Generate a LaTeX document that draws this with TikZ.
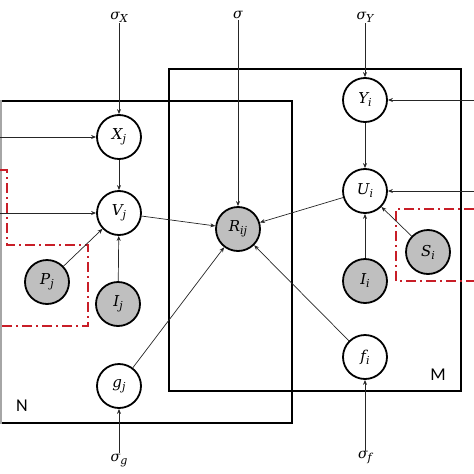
\documentclass[tikz,border=0pt]{standalone}
\usepackage{fontspec}
\newfontfamily\carl{Carlito}
\newfontfamily\vf{DejaVu Serif}
\newcommand\mvar[2]{{\vf\itshape #1}\raisebox{-3pt}{\fontsize{11}{11}\selectfont\vf\itshape #2}}
\usetikzlibrary{arrows.meta}
\definecolor{dred}{RGB}{200,30,40}
\begin{document}
\begin{tikzpicture}[x=1pt,y=-1pt,
 var/.style={circle,draw,line width=1.8pt,minimum size=44pt,inner sep=0pt,font=\fontsize{15}{17}\selectfont},
 obs/.style={var,fill=gray!50},
 edge/.style={-{Stealth[length=5pt,width=4pt]},line width=0.7pt,draw=black!85},
 plate/.style={line width=1.6pt},
 redbox/.style={draw=dred,line width=1.8pt,dash pattern=on 10pt off 4pt on 2pt off 4pt},
 lab/.style={font=\fontsize{14}{16}\selectfont,inner sep=1pt},
 platelab/.style={font=\carl\fontsize{18}{20}\selectfont}]
\useasboundingbox (0,0) rectangle (474,474);
% plates
\draw[plate] (1,101) -- (292,101) -- (292,423) -- (1,423);
\draw[plate,draw=gray!70] (1,100) -- (1,424);
\draw[plate] (169,69) rectangle (461,391);
\node[platelab] (Nlab) at (22,406) {N};
\node[platelab] (Mlab) at (438,375) {M};
% red boxes
\draw[redbox] (0,170) -- (7,170) -- (7,245) -- (88,245) -- (88,326) -- (0,326);
\draw[redbox] (474,209) -- (396,209) -- (396,281) -- (474,281);
% nodes
\node[var] (X) at (119,137) {\mvar{X}{j}};
\node[var] (V) at (119,213) {\mvar{V}{j}};
\node[obs] (P) at (47,282) {\mvar{P}{j}};
\node[obs] (Ij) at (118,304) {\mvar{I}{j}};
\node[var] (g) at (119,386) {\mvar{g}{j}};
\node[obs] (R) at (238,229) {\mvar{R}{ij}};
\node[var] (Y) at (365,100) {\mvar{Y}{i}};
\node[var] (U) at (365,191) {\mvar{U}{i}};
\node[obs] (S) at (428,252) {\mvar{S}{i}};
\node[obs] (Ii) at (365,281) {\mvar{I}{i}};
\node[var] (f) at (365,357) {\mvar{f}{i}};
% hyperparameters
\node[lab] (sX) at (119,17) {\mvar{σ}{X}};
\node[lab] (s) at (238,15) {{\vf\itshape σ}};
\node[lab] (sY) at (365,17) {\mvar{σ}{Y}};
\node[lab] (sg) at (119,461) {\mvar{σ}{g}};
\node[lab] (sf) at (365,458) {\mvar{σ}{f}};
% free ends
\coordinate (lx) at (0,137);
\coordinate (lv) at (0,213);
\coordinate (ry) at (474,100);
\coordinate (ru) at (474,191);
% edges
\draw[edge] (sX) -- (X);
\draw[edge] (s) -- (R);
\draw[edge] (sY) -- (Y);
\draw[edge] (sg) -- (g);
\draw[edge] (sf) -- (f);
\draw[edge] (lx) -- (X);
\draw[edge] (lv) -- (V);
\draw[edge] (ry) -- (Y);
\draw[edge] (ru) -- (U);
\draw[edge] (X) -- (V);
\draw[edge] (Ij) -- (V);
\draw[edge] (P) -- (V);
\draw[edge] (V) -- (R);
\draw[edge] (U) -- (R);
\draw[edge] (Y) -- (U);
\draw[edge] (Ii) -- (U);
\draw[edge] (S) -- (U);
\draw[edge] (g) -- (R);
\draw[edge] (f) -- (R);
\end{tikzpicture}
\end{document}
